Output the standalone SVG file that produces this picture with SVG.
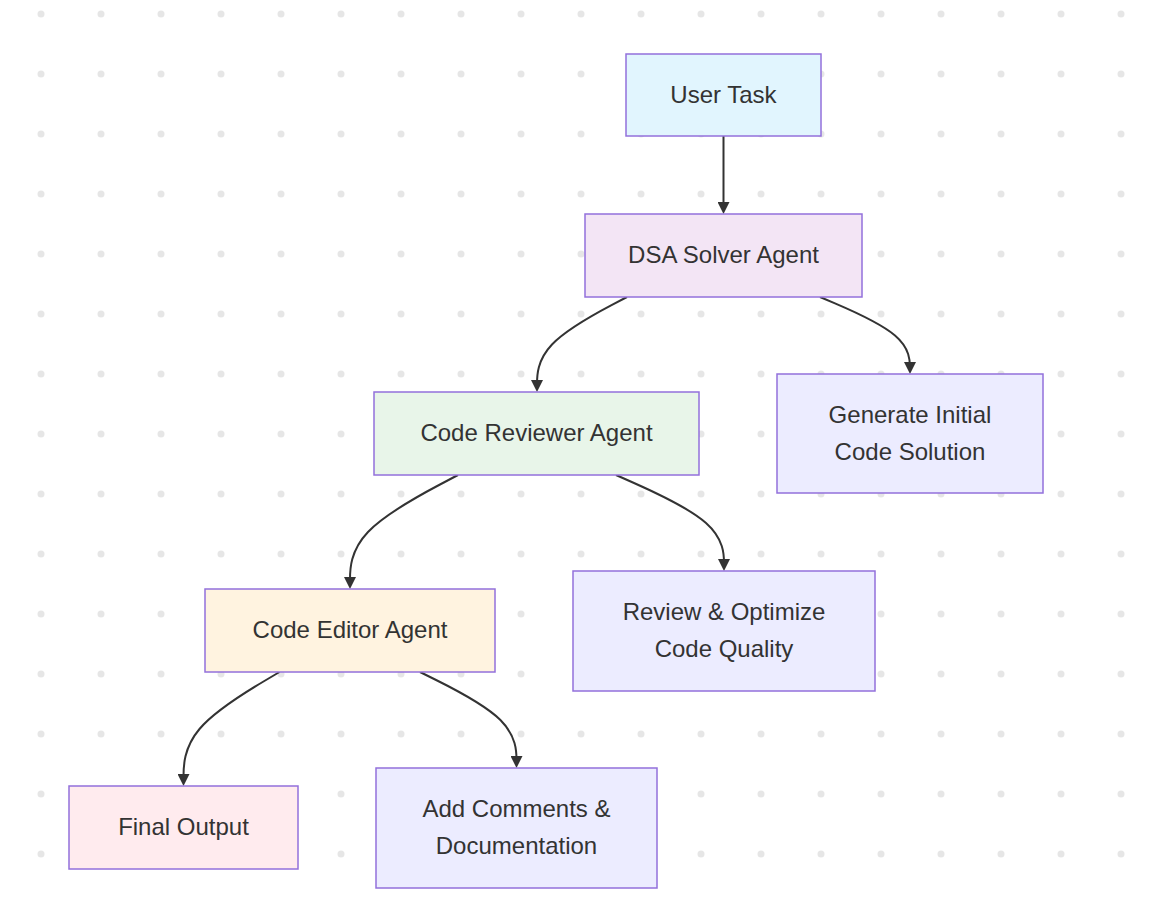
<svg xmlns="http://www.w3.org/2000/svg" width="1176" height="902" viewBox="0 0 1176 902">
  <style>
    .node rect { stroke: #9370DB; stroke-width: 1.5; }
    .node text { font-family: "Liberation Sans", Arial, sans-serif; font-size: 24px; fill: #333333; text-anchor: middle; }
    .edge { fill: none; stroke: #333333; stroke-width: 2; marker-end: url(#arrow); }
  </style>
  <defs>
    <pattern id="dots" patternUnits="userSpaceOnUse" x="0" y="0" width="60" height="60">
      <circle cx="41" cy="14" r="3.5" fill="#e6e6e6"/>
    </pattern>
    <marker id="arrow" markerUnits="userSpaceOnUse" viewBox="0 0 12 12" refX="7" refY="6" markerWidth="12" markerHeight="12" orient="auto">
      <path d="M0,0 L12,6 L0,12 z" fill="#333333"/>
    </marker>
  </defs>
  <rect x="0" y="0" width="1176" height="902" fill="#ffffff"/>
  <rect x="0" y="0" width="1176" height="902" fill="url(#dots)"/>

  <g id="connectors">
    <path class="edge" d="M723.5,136 L723.5,209"/>
    <path class="edge" d="M627,297 L612,304.9 C597,312.8 567,328.7 552,344.5 C537,360.3 537,376.2 537,384.1 L537,387"/>
    <path class="edge" d="M820,297 L835,303.4 C850,309.8 880,322.7 895,335.5 C910,348.3 910,361.2 910,367.6 L910,369"/>
    <path class="edge" d="M458,475 L440,484.5 C422,494 386,513 368,532 C350,551 350,570 350,579.5 L350,584"/>
    <path class="edge" d="M616,475 L634,483 C652,491 688,507 706,523 C724,539 724,555 724,563 L724,566"/>
    <path class="edge" d="M279.5,672 L263.5,681.5 C247.5,691 215.5,710 199.5,729 C183.5,748 183.5,767 183.5,776.5 L183.5,781"/>
    <path class="edge" d="M420,672 L436.1,680 C452.2,688 484.3,704 500.4,720 C516.5,736 516.5,752 516.5,760 L516.5,763"/>
  </g>

  <g id="node-user-task" class="node">
    <rect x="626" y="54" width="195" height="82" fill="#e1f5fe"/>
    <text x="723.5" y="103">User Task</text>
  </g>
  <g id="node-dsa-solver" class="node">
    <rect x="585" y="214" width="277" height="83" fill="#f3e5f5"/>
    <text x="723.5" y="263">DSA Solver Agent</text>
  </g>
  <g id="node-code-reviewer" class="node">
    <rect x="374" y="392" width="325" height="83" fill="#e8f5e9"/>
    <text x="536.5" y="441">Code Reviewer Agent</text>
  </g>
  <g id="node-generate" class="node">
    <rect x="777" y="374" width="266" height="119" fill="#ececff"/>
    <text x="910" y="423">Generate Initial</text>
    <text x="910" y="460">Code Solution</text>
  </g>
  <g id="node-code-editor" class="node">
    <rect x="205" y="589" width="290" height="83" fill="#fff3e0"/>
    <text x="350" y="638">Code Editor Agent</text>
  </g>
  <g id="node-review" class="node">
    <rect x="573" y="571" width="302" height="120" fill="#ececff"/>
    <text x="724" y="620">Review &amp; Optimize</text>
    <text x="724" y="657">Code Quality</text>
  </g>
  <g id="node-final-output" class="node">
    <rect x="69" y="786" width="229" height="83" fill="#ffebee"/>
    <text x="183.5" y="835">Final Output</text>
  </g>
  <g id="node-add-comments" class="node">
    <rect x="376" y="768" width="281" height="120" fill="#ececff"/>
    <text x="516.5" y="817">Add Comments &amp;</text>
    <text x="516.5" y="854">Documentation</text>
  </g>
</svg>
